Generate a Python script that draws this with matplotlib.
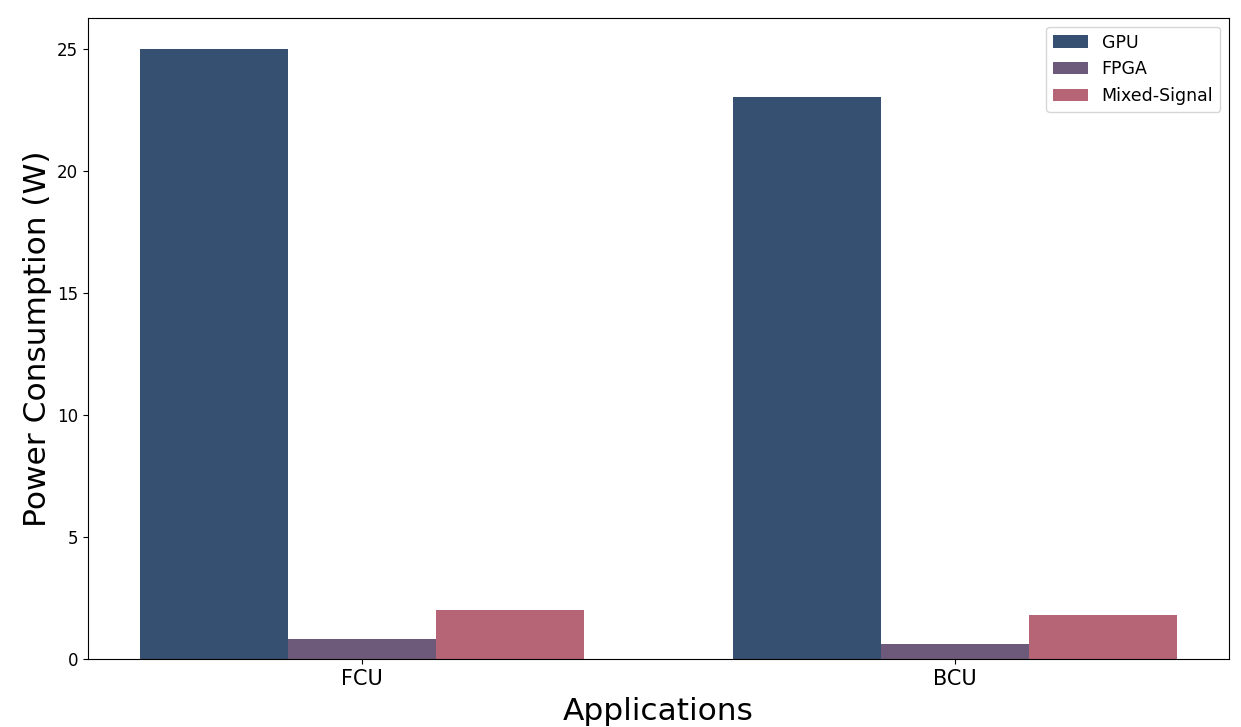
import matplotlib
matplotlib.use('Agg')
import matplotlib.pyplot as plt
import numpy as np

# ── Data ──────────────────────────────────────────────────────────────────────
applications = ['FCU', 'BCU']
series_names = ['GPU', 'FPGA', 'Mixed-Signal']
gpu_power = [25.0, 23.0]
fpga_power = [0.8, 0.6]
mixed_power = [2.0, 1.8]
colors = ['#355070', '#6d597a', '#b56576']

# ── Figure ────────────────────────────────────────────────────────────────────
fig = plt.figure(figsize=(12.41, 7.27), dpi=100)
ax = fig.add_axes([88 / 1241, 1 - 659 / 727, (1229 - 88) / 1241, (659 - 18) / 727])

x = np.arange(len(applications))
width = 0.25
for i, (name, vals) in enumerate(zip(series_names, [gpu_power, fpga_power, mixed_power])):
    ax.bar(x + (i - 1) * width, vals, width, color=colors[i], label=name)

ax.set_xticks(x)
ax.set_xticklabels(applications)
ax.tick_params(axis='x', labelsize=15)
ax.tick_params(axis='y', labelsize=12)
ax.set_xlabel('Applications', fontsize=22.5, labelpad=6)
ax.set_ylabel('Power Consumption (W)', fontsize=22.5)
ax.legend(loc='upper right', fontsize=12.5, labelspacing=0.5)

fig.savefig('out.png', dpi=100)
